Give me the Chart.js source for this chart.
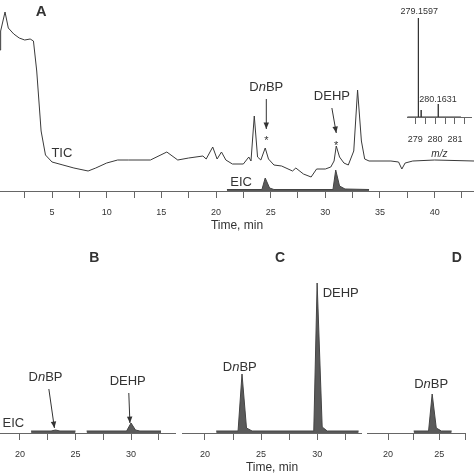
<!DOCTYPE html>
<html lang="en">
<head>
<meta charset="UTF-8">
<script src="https://cdn.jsdelivr.net/npm/chart.js"></script>
<style>
    body { margin: 0; background: #fff; }
    .wrap { position: relative; width: 474px; height: 474px; overflow: hidden; }
    canvas { position: absolute; }
</style>
</head>
<body>
<div class="wrap">
    <canvas id="chartA" width="474" height="233" style="left:0;top:0"></canvas>
    <canvas id="chartInset" width="76" height="160" style="left:398px;top:0"></canvas>
    <canvas id="chartB" width="176" height="235" style="left:0;top:240px"></canvas>
    <canvas id="chartC" width="180" height="235" style="left:182px;top:240px"></canvas>
    <canvas id="chartD" width="107" height="235" style="left:367px;top:240px"></canvas>
</div>
<script>
// panel A, total ion chromatogram (time in min, intensity)
const ticTime = [0.24, 0.3, 0.7, 1.0, 1.5, 2, 2.5, 3.0, 3.3, 3.6, 4.0, 4.4, 5, 6, 7, 8.3, 9, 10, 11, 12, 14, 15.5, 16.5, 17.5, 18.8, 19.1, 19.7, 20.1, 20.5, 20.9, 21.5, 22.5, 23.0, 23.2, 23.5, 23.8, 24.1, 24.5, 24.8, 25.3, 26, 27, 27.3, 28, 28.7, 29.2, 30, 30.5, 30.8, 31.0, 31.3, 31.7, 32.1, 32.6, 32.95, 33.3, 33.6, 34, 36, 36.7, 37.0, 37.3, 38, 40, 43.6];
const ticValue = [141, 160, 179, 163, 157, 153, 151, 152, 150, 120, 60, 36, 29, 26, 23, 20, 23, 28, 31, 31, 31, 39, 31, 33, 35, 32, 44, 32, 39, 31, 27, 27, 34, 30, 75, 34, 31, 43, 32, 26, 25, 20, 23, 17, 14, 22, 22, 24, 30, 45, 34, 28, 26, 40, 101, 50, 32, 30, 30, 29, 22, 28, 30, 31, 30];
const eicATime = [21, 24.2, 24.5, 24.9, 25.3, 30.7, 30.95, 31.3, 31.8, 34];
const eicAValue = [1.5, 1.5, 13, 3, 1.5, 1.5, 21, 5, 2, 1.5];

// inset mass spectrum (m/z, intensity)
const msMz = [278.6, 279.16, 279.16, 279.16, 279.3, 279.3, 279.3, 280.16, 280.16, 280.16, 281.3];
const msValue = [0, 0, 99, 0, 0, 7, 0, 0, 13, 0, 0];

// panels B, C, D, extracted ion chromatograms
const eicBTime = [21, 22.8, 23.2, 23.6, 25, null, 26, 29.6, 30, 30.4, 30.8, 32.7];
const eicBValue = [2, 2, 3, 2, 2, null, 2, 2, 10, 3, 2, 2];
const eicCTime = [21, 22.95, 23.3, 23.7, 24.2, 29.7, 30, 30.45, 30.9, 33.7];
const eicCValue = [2, 2, 59, 5, 2, 2, 150, 6, 2, 2];
const eicDTime = [22.5, 23.95, 24.3, 24.7, 25.2, 26.2];
const eicDValue = [2, 2, 39, 5, 2, 2];

function pts(xs, ys) {
    return xs.map((x, i) => x === null ? { x: NaN, y: null } : { x: x, y: ys[i] });
}

// text notes drawn in data units
const notesA = [
    { x: 4.0, y: 175, text: 'A', bold: true, size: 15 },
    { x: 5.9, y: 34, text: 'TIC' },
    { x: 24.6, y: 100, text: 'DnBP', arrow: [24.6, 92, 24.6, 62] },
    { x: 24.6, y: 47, text: '*', size: 11 },
    { x: 30.6, y: 91, text: 'DEHP', arrow: [30.6, 83, 31.0, 58] },
    { x: 31.0, y: 42, text: '*', size: 11 },
    { x: 22.3, y: 5, text: 'EIC' }
];
const notesInset = [
    { x: 279.2, y: 103, text: '279.1597', size: 9 },
    { x: 280.15, y: 15, text: '280.1631', size: 9 }
];
const notesB = [
    { x: 26.7, y: 171, text: 'B', bold: true, size: 14 },
    { x: 22.3, y: 52, text: 'DnBP', arrow: [22.6, 44, 23.1, 5] },
    { x: 29.7, y: 48, text: 'DEHP', arrow: [29.8, 40, 29.9, 10] },
    { x: 19.4, y: 6, text: 'EIC' }
];
const notesC = [
    { x: 26.7, y: 171, text: 'C', bold: true, size: 14 },
    { x: 23.1, y: 62, text: 'DnBP' },
    { x: 32.1, y: 136, text: 'DEHP' }
];
const notesD = [
    { x: 26.7, y: 171, text: 'D', bold: true, size: 14 },
    { x: 24.2, y: 45, text: 'DnBP' }
];

const FONT = '"Liberation Sans", Arial, sans-serif';
const INK = '#333';

const notesPlugin = {
    id: 'notes',
    afterDraw(chart, args, opts) {
        const c = chart.ctx, xs = chart.scales.x, ys = chart.scales.y;
        c.save();
        c.fillStyle = INK;
        c.strokeStyle = INK;
        c.textAlign = 'center';
        c.textBaseline = 'alphabetic';
        (opts.items || []).forEach(n => {
            const px = xs.getPixelForValue(n.x), py = ys.getPixelForValue(n.y);
            const size = n.size || 13;
            if (n.text.indexOf('DnBP') === 0) {
                // italic n
                const parts = [['D', ''], ['n', 'italic '], ['BP', '']];
                let w = 0;
                parts.forEach(p => { c.font = p[1] + size + 'px ' + FONT; w += c.measureText(p[0]).width; });
                let cx = px - w / 2;
                c.textAlign = 'left';
                parts.forEach(p => {
                    c.font = p[1] + size + 'px ' + FONT;
                    c.fillText(p[0], cx, py);
                    cx += c.measureText(p[0]).width;
                });
                c.textAlign = 'center';
            } else {
                c.font = (n.bold ? 'bold ' : '') + size + 'px ' + FONT;
                c.fillText(n.text, px, py);
            }
            if (n.arrow) {
                const x1 = xs.getPixelForValue(n.arrow[0]), y1 = ys.getPixelForValue(n.arrow[1]);
                const x2 = xs.getPixelForValue(n.arrow[2]), y2 = ys.getPixelForValue(n.arrow[3]);
                c.lineWidth = 1;
                c.beginPath(); c.moveTo(x1, y1); c.lineTo(x2, y2); c.stroke();
                const a = Math.atan2(y2 - y1, x2 - x1);
                c.beginPath();
                c.moveTo(x2, y2);
                c.lineTo(x2 - 7 * Math.cos(a - 0.4), y2 - 7 * Math.sin(a - 0.4));
                c.lineTo(x2 - 7 * Math.cos(a + 0.4), y2 - 7 * Math.sin(a + 0.4));
                c.closePath(); c.fill();
            }
        });
        c.restore();
    }
};

function makeChart(id, datasets, o) {
    return new Chart(document.getElementById(id), {
        type: 'line',
        data: { datasets: datasets },
        plugins: [notesPlugin],
        options: {
            responsive: false,
            animation: false,
            devicePixelRatio: 1,
            layout: { padding: 0 },
            plugins: { legend: { display: false }, tooltip: { enabled: false }, notes: { items: o.notes } },
            elements: { point: { radius: 0 }, line: { tension: 0 } },
            scales: {
                x: {
                    type: 'linear', min: o.min, max: o.max,
                    afterFit: s => { s.height = o.axisH; },
                    afterBuildTicks: s => {
                        const t = [];
                        for (let v = Math.ceil(o.min / o.step) * o.step; v <= o.max + 1e-9; v += o.step) t.push({ value: +v.toFixed(3) });
                        s.ticks = t;
                    },
                    border: { display: true, color: '#666', width: 1 },
                    grid: { drawOnChartArea: false, drawTicks: true, tickLength: 7, color: '#666' },
                    ticks: {
                        autoSkip: false, maxRotation: 0, padding: o.tickPad || 9,
                        color: INK, font: { family: FONT, size: 9 },
                        callback: v => (Math.abs(v % o.label) < 1e-6 ? String(v) : '')
                    },
                    title: o.title ? { display: true, text: o.title, color: INK, padding: { top: 0, bottom: 0 }, font: { family: FONT, size: o.titleSize || 12, style: o.titleStyle || 'normal' } } : { display: false }
                },
                y: { display: false, min: 0, max: o.ymax }
            }
        }
    });
}

const ticLine = { data: pts(ticTime, ticValue), borderColor: '#3a3a3a', borderWidth: 1, fill: false };
const eicStyle = { borderColor: '#444', borderWidth: 1, backgroundColor: '#5a5a5a', fill: 'origin', spanGaps: false };

makeChart('chartA', [ticLine, Object.assign({ data: pts(eicATime, eicAValue) }, eicStyle)],
    { min: 0.24, max: 43.6, step: 2.5, label: 5, axisH: 42, ymax: 191, notes: notesA, title: 'Time, min' });

makeChart('chartInset', [{ data: pts(msMz, msValue), borderColor: '#333', borderWidth: 1, fill: false }],
    { min: 278.6, max: 281.83, step: 0.5, label: 1, axisH: 43, ymax: 117, notes: notesInset, title: 'm/z', titleStyle: 'italic', titleSize: 10, tickPad: 10 });

makeChart('chartB', [Object.assign({ data: pts(eicBTime, eicBValue) }, eicStyle)],
    { min: 18.2, max: 34.05, step: 2.5, label: 5, axisH: 42, ymax: 193, notes: notesB });
makeChart('chartC', [Object.assign({ data: pts(eicCTime, eicCValue) }, eicStyle)],
    { min: 17.95, max: 34.0, step: 2.5, label: 5, axisH: 42, ymax: 193, notes: notesC, title: 'Time, min' });
makeChart('chartD', [Object.assign({ data: pts(eicDTime, eicDValue) }, eicStyle)],
    { min: 17.95, max: 27.5, step: 2.5, label: 5, axisH: 42, ymax: 193, notes: notesD });
</script>
</body>
</html>
